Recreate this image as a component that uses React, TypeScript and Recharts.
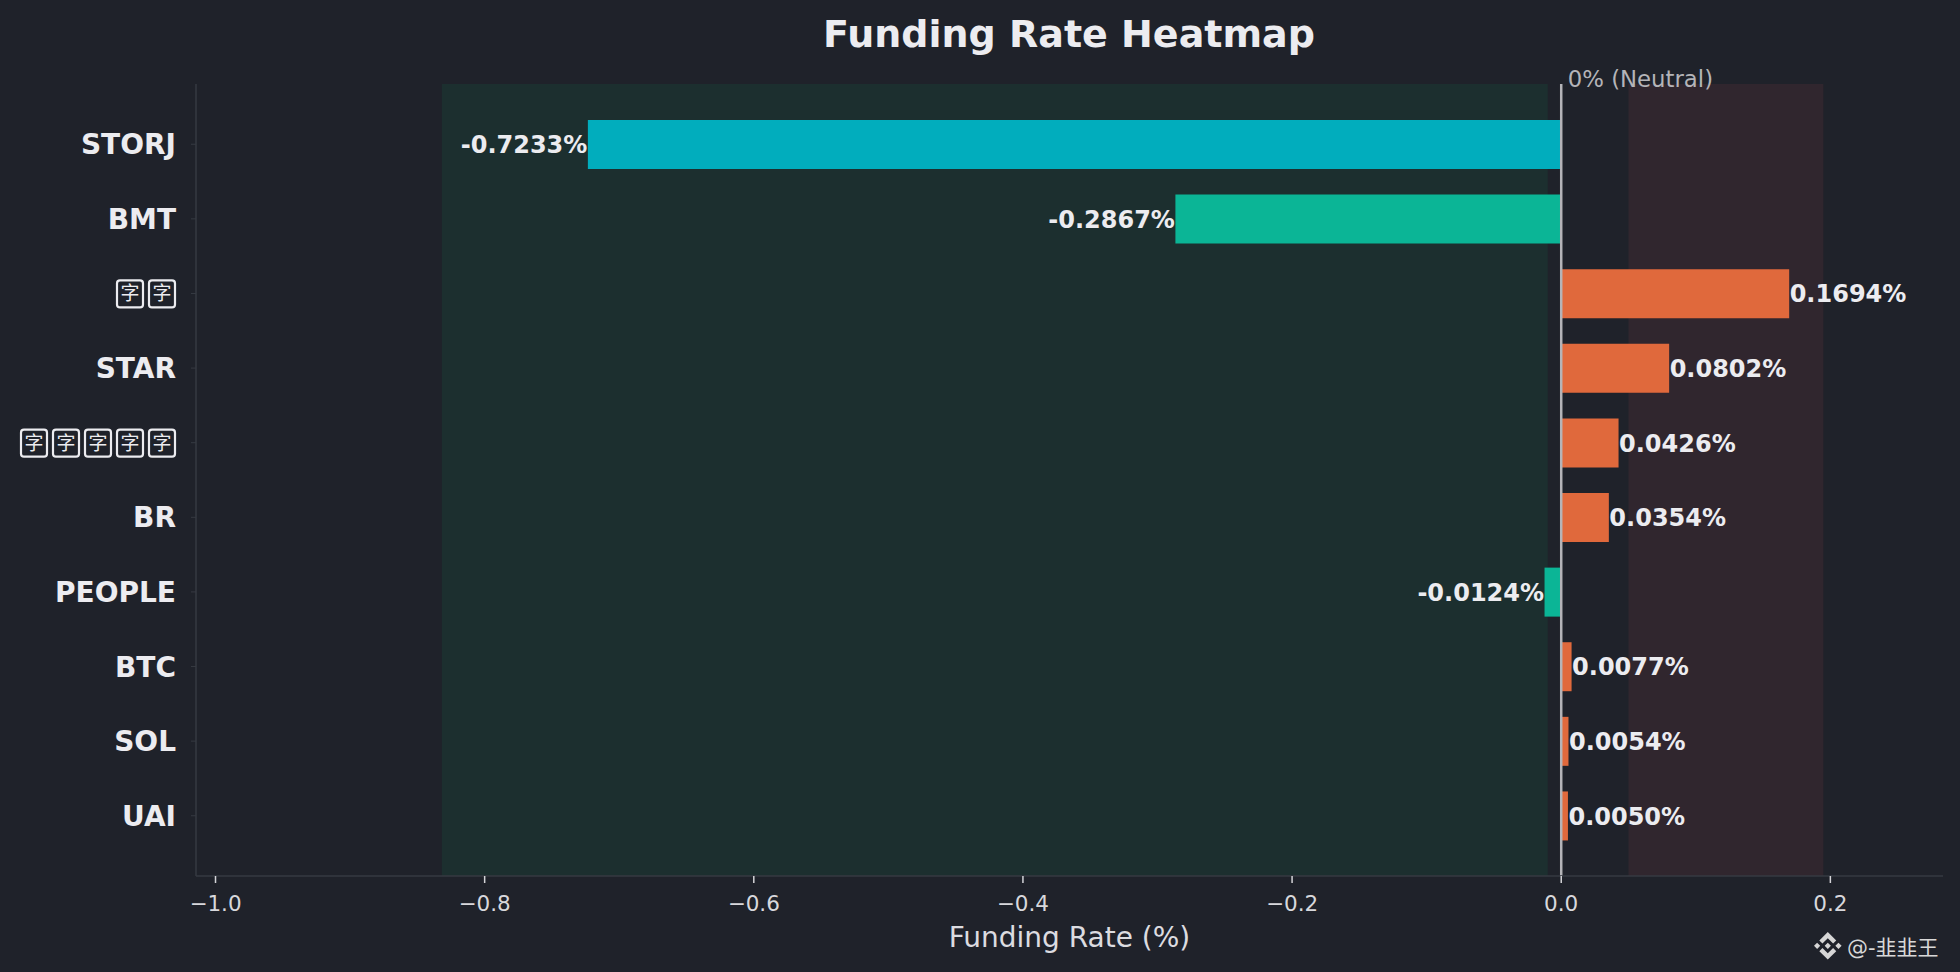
import React from 'react'
import {
  BarChart,
  Bar,
  XAxis,
  YAxis,
  Cell,
  LabelList,
  ReferenceArea,
  ReferenceLine,
} from 'recharts'

// ── data ────────────────────────────────────────────────────────────────────

const symbols = ['STORJ', 'BMT', '字字', 'STAR', '字字字字字', 'BR', 'PEOPLE', 'BTC', 'SOL', 'UAI']
const rates = [-0.7233, -0.2867, 0.1694, 0.0802, 0.0426, 0.0354, -0.0124, 0.0077, 0.0054, 0.005]
const xTicks = [-1.0, -0.8, -0.6, -0.4, -0.2, 0.0, 0.2]
const longZone = [-0.8318, -0.01]
const shortZone = [0.05, 0.1948]

// ── theme ───────────────────────────────────────────────────────────────────

const BG = '#1f222a'
const SPINE = '#363a42'
const TEXT = '#ececf0'
const FONT = '"DejaVu Sans", Verdana, sans-serif'
const CJK = '"DejaVu Sans", "Noto Sans CJK SC", sans-serif'

const barColor = (v: number) => (v < -0.5 ? '#01adbd' : v < 0 ? '#0bb596' : '#e0693c')

const data = symbols.map((s, i) => ({ symbol: s, pos: i, rate: rates[i] }))

const fmtTick = (v: number) => (v < 0 ? '\u2212' : '') + Math.abs(v).toFixed(1)

// Y tick: latin names in bold, CJK names as boxed glyphs (missing-font look)
function SymbolTick(props: any) {
  const { x, y, payload } = props
  const name = symbols[payload.value] ?? ''
  if (/^[\x00-\x7f]*$/.test(name)) {
    return (
      <text x={x} y={y} dy={28 * 0.36} textAnchor="end" fill={TEXT}
        fontFamily={FONT} fontSize={28} fontWeight="bold">
        {name}
      </text>
    )
  }
  const chars = Array.from(name)
  return (
    <g>
      {chars.map((ch, k) => {
        const right = x - 1 - (chars.length - 1 - k) * 32
        const left = right - 26
        return (
          <g key={k}>
            <rect x={left} y={y - 13} width={26} height={27} rx={3}
              fill="none" stroke={TEXT} strokeWidth={2.2} />
            <text x={left + 13} y={y} dy={7} textAnchor="middle" fill={TEXT}
              fontFamily='"Noto Sans CJK SC", sans-serif' fontSize={19}>
              {ch}
            </text>
          </g>
        )
      })}
    </g>
  )
}

function ValueLabel(props: any) {
  const { x, y, width, height, value } = props
  const x0 = Number(x)
  const w = Number(width)
  const v = Number(value)
  const neg = v < 0
  const left = Math.min(x0, x0 + w)
  const right = Math.max(x0, x0 + w)
  return (
    <text x={neg ? left - 0.5 : right + 0.5} y={Number(y) + Number(height) / 2} dy={24 * 0.36}
      textAnchor={neg ? 'end' : 'start'} fill={TEXT} fontFamily={FONT} fontSize={24} fontWeight="bold">
      {`${v.toFixed(4)}%`}
    </text>
  )
}

function NeutralLabel(props: any) {
  const vb = props.viewBox ?? {}
  return (
    <text x={vb.x + 6.5} y={vb.y + 3} fill="#b4b4b8" fontFamily={FONT} fontSize={22.8}>
      0% (Neutral)
    </text>
  )
}

export default function App() {
  return (
    <div style={{ position: 'fixed', left: 0, top: 0, width: 1960, height: 972, background: BG, overflow: 'hidden' }}>
      <BarChart
        width={1960}
        height={972}
        data={data}
        layout="vertical"
        margin={{ top: 84, right: 17, bottom: 0, left: 16 }}
      >
        <ReferenceArea x1={longZone[0]} x2={longZone[1]} fill="#1c2f2f" fillOpacity={1} stroke="none" />
        <ReferenceArea x1={shortZone[0]} x2={shortZone[1]} fill="#30262e" fillOpacity={1} stroke="none" />
        <XAxis
          type="number"
          dataKey="rate"
          domain={[-1.0145, 0.2837]}
          ticks={xTicks}
          allowDataOverflow
          tickFormatter={fmtTick}
          height={96}
          axisLine={{ stroke: SPINE, strokeWidth: 1.5 }}
          tickLine={{ stroke: '#d4d4d8', strokeWidth: 1.5 }}
          tickSize={7}
          tickMargin={13}
          tick={{ fill: '#d8d8dc', fontSize: 21.5, fontFamily: FONT }}
          label={{
            value: 'Funding Rate (%)',
            position: 'insideBottom',
            offset: 25,
            fill: '#dcdce0',
            fontSize: 28,
            fontFamily: FONT,
          }}
        />
        <YAxis
          type="number"
          dataKey="pos"
          domain={[-0.8075, 9.8075]}
          ticks={data.map((d) => d.pos)}
          interval={0}
          width={180}
          tick={<SymbolTick />}
          tickSize={5}
          tickMargin={15}
          axisLine={{ stroke: SPINE, strokeWidth: 1.5 }}
          tickLine={{ stroke: SPINE }}
        />
        <Bar dataKey="rate" barSize={49} isAnimationActive={false}>
          {data.map((d, i) => (
            <Cell key={i} fill={barColor(d.rate)} />
          ))}
          <LabelList dataKey="rate" content={<ValueLabel />} />
        </Bar>
        <ReferenceLine x={0} stroke="#b4b4b8" strokeWidth={2.5} label={<NeutralLabel />} />
      </BarChart>

      <svg width={1960} height={972} style={{ position: 'absolute', left: 0, top: 0, pointerEvents: 'none' }}>
        <text x={1069} y={47} textAnchor="middle" fill={TEXT} fontFamily={FONT} fontSize={38} fontWeight="bold">
          Funding Rate Heatmap
        </text>
        <g transform="translate(1814,932) scale(1.15)" fill="#d6d6d6">
          <path d="M16.624 13.9202l2.7175 2.7154-7.353 7.353-7.353-7.352 2.7175-2.7164 4.6355 4.6595 4.6356-4.6595zm4.6366-4.6366L24 12l-2.7154 2.7164L18.5682 12l2.6924-2.7164zm-9.272.001l2.7163 2.6914-2.7164 2.7174v-.001L9.2721 12l2.7164-2.7154zm-9.2722-.001L5.4088 12l-2.6914 2.6924L0 12l2.7164-2.7164zM11.9885.0115l7.353 7.329-2.7174 2.7154-4.6356-4.6356-4.6355 4.6595-2.7174-2.7154 7.353-7.353z" />
        </g>
        <text x={1847} y={955} fill="#d8d8d8" fontFamily={CJK} fontSize={21}>
          @-韭韭王
        </text>
      </svg>
    </div>
  )
}
